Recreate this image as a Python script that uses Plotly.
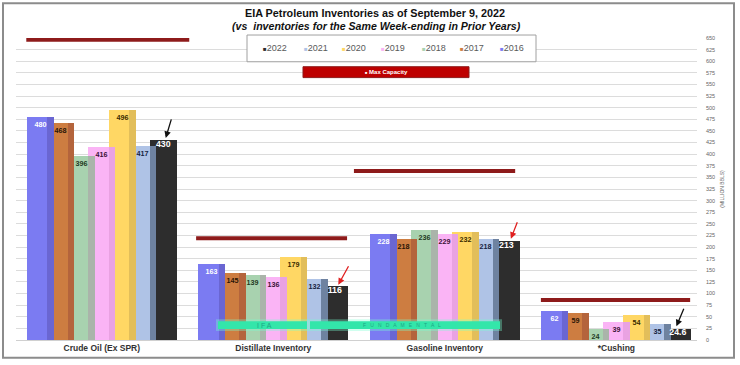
import plotly.graph_objects as go

# ---------------- data ----------------
categories = ["Crude Oil (Ex SPR)", "Distillate Inventory", "Gasoline Inventory", "*Cushing"]
years = ["2016", "2017", "2018", "2019", "2020", "2021", "2022"]
v2016 = [480, 163, 228, 62]
v2017 = [468, 145, 218, 59]
v2018 = [396, 139, 236, 24]
v2019 = [416, 136, 229, 39]
v2020 = [496, 179, 232, 54]
v2021 = [417, 132, 218, 35]
v2022 = [430, 116, 213, 24.6]
max_capacity = [646, 219, 364, 86]
y_ticks = list(range(0, 651, 25))

series = [v2016, v2017, v2018, v2019, v2020, v2021, v2022]

# ---------------- styles ----------------
face_colors = ["#7B7BF2", "#CD7D41", "#A8D2AF", "#FAB4F5", "#FFD764", "#AFC3E6", "#2D2D2D"]
shade_colors = ["#6A66D2", "#B4643C", "#AAB4AA", "#E9A2E2", "#E2BE5A", "#6E82A0", "#2D2D2D"]
label_colors = ["#FFFFFF", "#2A1606", "#1E3A22", "#3A1236", "#3A2C00", "#14223E", "#FFFFFF"]
label_sizes = [7.2, 7.2, 7.2, 7.2, 7.2, 7.2, 8.8]

FONT = "Arial, 'Liberation Sans', sans-serif"
L, R, T, B = 16, 43, 38, 22
W_PX, H_PX = 740, 365
PW = W_PX - L - R
PH = H_PX - T - B
XR = [-0.5, 3.47]
YR = [0, 650]

def px_x(p):  # pixel -> paper x
    return (p - L) / PW

def px_y(p):  # pixel -> paper y
    return (H_PX - B - p) / PH

group_left = -0.437
bar_w = 0.157
step = 0.1195
shade_w = bar_w - step
xs = list(range(len(categories)))
last = len(years) - 1

fig = go.Figure()

# draw latest year first so earlier years' shading lies on top
for i in reversed(range(len(years))):
    off = group_left + i * step
    fig.add_trace(go.Bar(
        x=xs, y=series[i], width=bar_w, offset=off,
        marker=dict(color=face_colors[i], line=dict(width=0)),
        text=None if i == last else [("%g" % v) for v in series[i]],
        textposition="inside", insidetextanchor="end", constraintext="none",
        textangle=0,
        textfont=dict(family=FONT, size=label_sizes[i], color=label_colors[i], weight="bold"),
        showlegend=False, hoverinfo="skip", name=years[i],
    ))
    if i < last:
        fig.add_trace(go.Bar(
            x=xs, y=series[i], width=shade_w, offset=off + step,
            marker=dict(color=shade_colors[i], line=dict(width=0)),
            showlegend=False, hoverinfo="skip",
        ))

# 2022 labels drawn on top of everything
c22 = group_left + last * step + bar_w / 2
fig.add_trace(go.Scatter(
    x=[k + c22 for k in xs], y=v2022, mode="text",
    text=[("%g" % v) for v in v2022], textposition="bottom center",
    textfont=dict(family=FONT, size=label_sizes[last], color=label_colors[last], weight="bold"),
    cliponaxis=False, showlegend=False, hoverinfo="skip"))

# max capacity lines
cap_x0 = [-0.44, -0.45, -0.53, -0.44]
cap_x1 = [0.51, 0.43, 0.41, 0.43]
lx, ly = [], []
for k, c in enumerate(max_capacity):
    lx += [k + cap_x0[k], k + cap_x1[k], None]
    ly += [c, c, None]
fig.add_trace(go.Scatter(x=lx, y=ly, mode="lines",
                         line=dict(color="#8E1B1B", width=4),
                         showlegend=False, hoverinfo="skip"))

shapes = []
annotations = []

# outer frame
shapes.append(dict(type="rect", xref="paper", yref="paper",
                   x0=px_x(3), x1=px_x(734), y0=px_y(361), y1=px_y(3),
                   line=dict(color="#8C8C8C", width=2), fillcolor="rgba(0,0,0,0)", layer="above"))

# legend box
shapes.append(dict(type="rect", xref="paper", yref="paper",
                   x0=px_x(247), x1=px_x(536), y0=px_y(62), y1=px_y(35),
                   line=dict(color="#A0A0A0", width=1), fillcolor="white", layer="above"))
legend_px = [261, 302, 340, 379, 420, 458, 498]
for j, yi in enumerate(reversed(range(len(years)))):
    annotations.append(dict(
        xref="paper", yref="paper", x=px_x(legend_px[j]), y=px_y(48.5),
        xanchor="left", yanchor="middle", showarrow=False,
        text='<span style="color:%s;font-size:6px">■</span>%s' % (face_colors[yi], years[yi]),
        font=dict(family=FONT, size=9, color="#595959")))

# Max capacity key
shapes.append(dict(type="rect", xref="paper", yref="paper",
                   x0=px_x(303), x1=px_x(469), y0=px_y(78), y1=px_y(67),
                   line=dict(color="#8E1B1B", width=1), fillcolor="#BE0000", layer="above"))
annotations.append(dict(xref="paper", yref="paper", x=px_x(386), y=px_y(72.5),
                        xanchor="center", yanchor="middle", showarrow=False,
                        text='<span style="font-size:4px">■</span> <b>Max Capacity</b>',
                        font=dict(family=FONT, size=6, color="white")))

# watermark band
for (a, b_) in [(218, 307), (310, 500)]:
    shapes.append(dict(type="rect", xref="paper", yref="paper",
                       x0=px_x(a - 2), x1=px_x(b_ + 2), y0=px_y(334), y1=px_y(322),
                       line=dict(width=0), fillcolor="rgba(120,255,210,0.35)", layer="above"))
    shapes.append(dict(type="rect", xref="paper", yref="paper",
                       x0=px_x(a), x1=px_x(b_), y0=px_y(332), y1=px_y(324),
                       line=dict(width=0), fillcolor="#33E6AA", layer="above"))
annotations.append(dict(xref="paper", yref="paper", x=px_x(264), y=px_y(328),
                        xanchor="center", yanchor="middle", showarrow=False,
                        text="I F A", font=dict(family=FONT, size=7, color="#1FA585")))
annotations.append(dict(xref="paper", yref="paper", x=px_x(402), y=px_y(328),
                        xanchor="center", yanchor="middle", showarrow=False,
                        text="F &nbsp; U &nbsp; N &nbsp; D &nbsp; A &nbsp; M &nbsp; E &nbsp; N &nbsp; T &nbsp; A &nbsp; L",
                        font=dict(family=FONT, size=5, color="#1FA585")))

# titles
annotations.append(dict(xref="paper", yref="paper", x=px_x(375), y=px_y(13),
                        xanchor="center", yanchor="middle", showarrow=False,
                        text="<b>EIA Petroleum Inventories as of September 9, 2022</b>",
                        font=dict(family=FONT, size=10.8, color="#111")))
annotations.append(dict(xref="paper", yref="paper", x=px_x(376), y=px_y(25.5),
                        xanchor="center", yanchor="middle", showarrow=False,
                        text="<b><i>(vs  inventories for the Same Week-ending in Prior Years)</i></b>",
                        font=dict(family=FONT, size=10.6, color="#111")))

# arrows at the 2022 bars
arrow_specs = [  # (category index, x offset, y pad, ax, ay, color)
    (0, 0.373, 5, 6, -20, "#111111"),
    (1, 0.379, 3, 11, -20, "#E02020"),
    (2, 0.385, 5, 7, -18, "#E02020"),
    (3, 0.350, 5, 8, -19, "#111111"),
]
for (k, dx, pad, ax, ay, col) in arrow_specs:
    annotations.append(dict(x=k + dx, y=v2022[k] + pad, xref="x", yref="y",
                            ax=ax, ay=ay, text="", showarrow=True,
                            arrowhead=2, arrowsize=1, arrowwidth=1.3, arrowcolor=col))

fig.update_layout(
    width=W_PX, height=H_PX, autosize=False,
    margin=dict(l=L, r=R, t=T, b=B),
    paper_bgcolor="white", plot_bgcolor="white",
    barmode="overlay", bargap=0,
    showlegend=False,
    font=dict(family=FONT),
    shapes=shapes, annotations=annotations,
    xaxis=dict(range=XR, tickvals=xs, ticktext=["<b>%s</b>" % c for c in categories],
               tickfont=dict(family=FONT, size=8.5, color="#333"),
               showgrid=False, zeroline=False, showline=True, linecolor="#D0D0D0",
               ticks="", fixedrange=True),
    yaxis=dict(range=YR, side="right", tickvals=y_ticks, ticktext=[str(t) for t in y_ticks],
               tickfont=dict(family=FONT, size=5.5, color="#666"),
               showgrid=True, gridcolor="#DCDCDC", gridwidth=1, zeroline=False,
               ticks="", ticklabelstandoff=8,
               title=dict(text="(MILLION BBLS)", font=dict(family=FONT, size=5, color="#555"), standoff=6),
               fixedrange=True),
)

fig.write_html("out.html", config={"displayModeBar": False},
               post_script="document.body.style.margin='0';document.body.style.overflow='hidden';")
